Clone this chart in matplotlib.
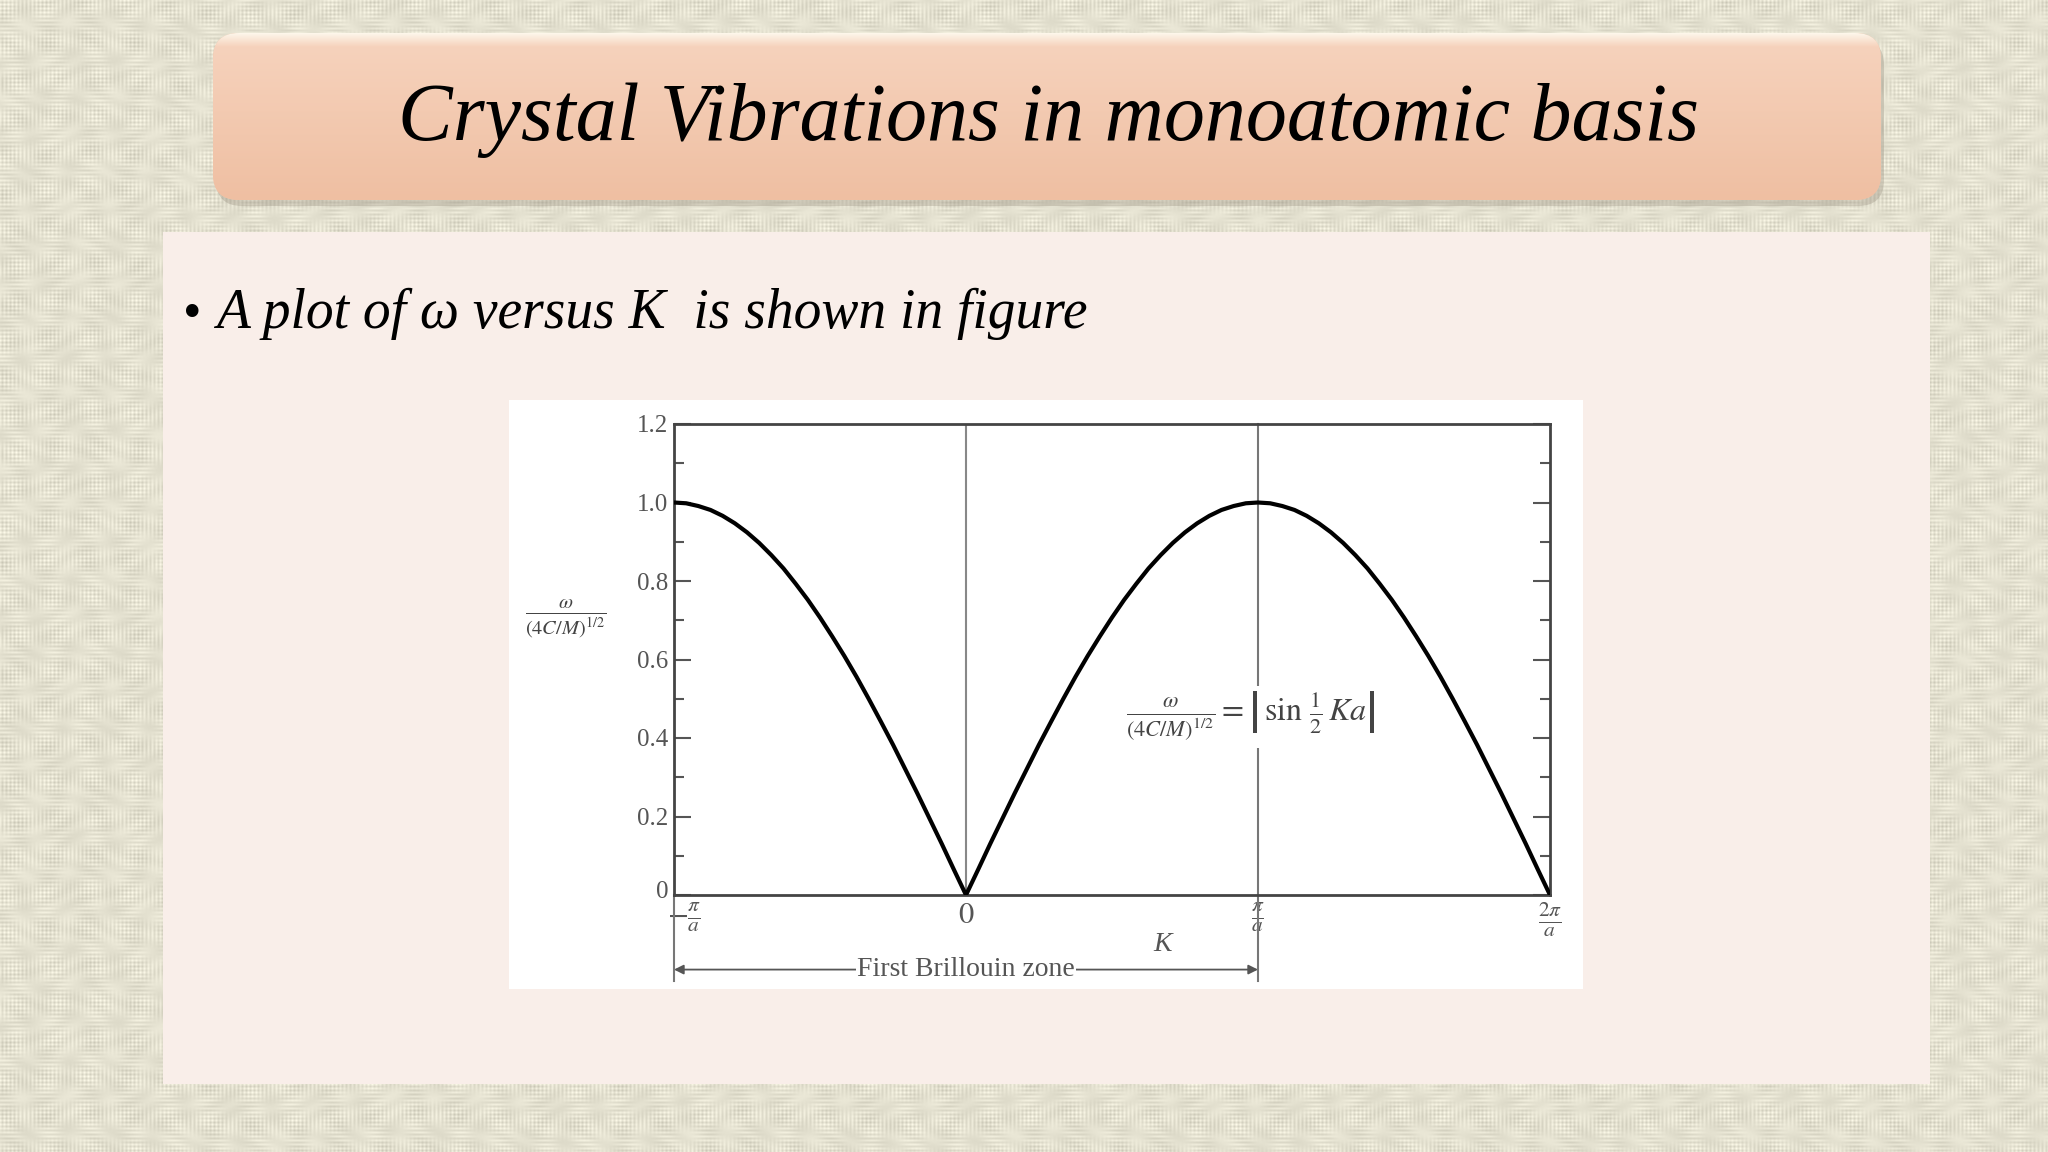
import numpy as np
import matplotlib
matplotlib.use("Agg")
import matplotlib.pyplot as plt
from matplotlib.patches import FancyBboxPatch, Rectangle
from matplotlib.transforms import ScaledTranslation

plt.rcParams['font.family'] = ['Liberation Serif', 'DejaVu Serif']
plt.rcParams['mathtext.fontset'] = 'stix'

# K in units of pi/a (1/24 steps), omega/(4C/M)^1/2
k_steps = list(range(-24, 49))
omega_norm = [1.000, 0.998, 0.991, 0.981, 0.966, 0.947, 0.924, 0.897, 0.866, 0.832, 0.793,
              0.752, 0.707, 0.659, 0.609, 0.556, 0.500, 0.442, 0.383, 0.321, 0.259, 0.195,
              0.131, 0.065, 0.000,
              0.065, 0.131, 0.195, 0.259, 0.321, 0.383, 0.442, 0.500, 0.556, 0.609, 0.659,
              0.707, 0.752, 0.793, 0.832, 0.866, 0.897, 0.924, 0.947, 0.966, 0.981, 0.991,
              0.998, 1.000,
              0.998, 0.991, 0.981, 0.966, 0.947, 0.924, 0.897, 0.866, 0.832, 0.793, 0.752,
              0.707, 0.659, 0.609, 0.556, 0.500, 0.442, 0.383, 0.321, 0.259, 0.195, 0.131,
              0.065, 0.000]
x_ticks = [-1, 0, 1, 2]
x_tick_labels = [r'$-\frac{\pi}{a}$', r'$0$', r'$\frac{\pi}{a}$', r'$\frac{2\pi}{a}$']
y_ticks = [0, 0.2, 0.4, 0.6, 0.8, 1.0, 1.2]
y_tick_labels = ['0', '0.2', '0.4', '0.6', '0.8', '1.0', '1.2']

title = 'Crystal Vibrations in monoatomic basis'
bullet = 'A plot of ω versus K  is shown in figure'

W, H = 2048, 1152
fig = plt.figure(figsize=(W / 100, H / 100), dpi=100)

# ---- slide background (pixel coords) ----
bg = fig.add_axes([0, 0, 1, 1])
bg.set_xlim(0, W)
bg.set_ylim(H, 0)
bg.axis('off')

yy, xx = np.mgrid[0:H, 0:W]
weave = (0.5 * np.cos(2 * np.pi * xx / 4.0) * (0.5 + 0.5 * np.sin(2 * np.pi * yy / 37 + np.sin(xx / 53)))
         + 0.5 * np.cos(2 * np.pi * yy / 4.0) * (0.5 + 0.5 * np.sin(2 * np.pi * xx / 41 + np.cos(yy / 29)))
         + 0.3 * np.sin(xx / 7.3 + 2 * np.sin(yy / 11.0)) * np.sin(yy / 5.1 + np.cos(xx / 13.0)))
base = np.array([228, 225, 208]) / 255.0
tex = np.clip(base[None, None, :] + 0.08 * weave[..., None], 0, 1)
bg.imshow(tex, extent=(0, W, H, 0), aspect='auto', interpolation='nearest', zorder=0)

# content panel
bg.add_patch(Rectangle((163, 232), 1767, 852, facecolor='#f9eee9', edgecolor='none', zorder=1))

# title banner with shadow and gradient
shadow = FancyBboxPatch((216, 39), 1668, 167, boxstyle='round,pad=0,rounding_size=26',
                        facecolor='#8c8272', edgecolor='none', alpha=0.3, zorder=2)
bg.add_patch(shadow)
banner = FancyBboxPatch((213, 33), 1668, 167, boxstyle='round,pad=0,rounding_size=26',
                        facecolor='#f3c6aa', edgecolor='none', zorder=3)
bg.add_patch(banner)
t = np.linspace(0, 1, 167)
top_c = np.array([253, 246, 234]) / 255.0
mid_c = np.array([246, 210, 188]) / 255.0
bot_c = np.array([239, 191, 162]) / 255.0
grad = np.where(t[:, None] < 0.08,
                top_c + (mid_c - top_c) * (t[:, None] / 0.08),
                mid_c + (bot_c - mid_c) * ((t[:, None] - 0.08) / 0.92))
grad = grad[:, None, :]
im = bg.imshow(grad, extent=(213, 1881, 200, 33), aspect='auto', zorder=4)
im.set_clip_path(banner)

bg.text(1048, 140, title, fontsize=59, style='italic', ha='center', va='baseline',
        color='black', zorder=5)
bg.text(183, 328, '•', fontsize=38, ha='left', va='baseline', color='black', zorder=5)
bg.text(216, 328, bullet, fontsize=40, style='italic', ha='left', va='baseline',
        color='black', zorder=5)

# white picture area
bg.add_patch(Rectangle((509, 400), 1074, 589, facecolor='white', edgecolor='none', zorder=5))

# ---- the dispersion plot ----
left, right, top, bottom = 674, 1550, 424, 895
ax = fig.add_axes([left / W, 1 - bottom / H, (right - left) / W, (bottom - top) / H])
ax.set_facecolor('none')
k_vals = [k / 24 for k in k_steps]
ax.plot(k_vals, omega_norm, color='black', lw=3, zorder=4, solid_joinstyle='round')
ax.set_xlim(-1, 2)
ax.set_ylim(0, 1.2)

gray = '#555555'
for s in ax.spines.values():
    s.set_color('#444444')
    s.set_linewidth(2)

ax.set_yticks(y_ticks)
ax.set_yticklabels(y_tick_labels)
ax.set_yticks([0.1, 0.3, 0.5, 0.7, 0.9, 1.1], minor=True)
ax.tick_params(axis='y', which='both', direction='in', left=True, right=True,
               color=gray, width=1.5, labelsize=18, labelcolor=gray, pad=4)
ax.tick_params(axis='y', which='major', length=12)
ax.tick_params(axis='y', which='minor', length=7)
ax.set_xticks(x_ticks)
ax.set_xticklabels(x_tick_labels)
ax.tick_params(axis='x', length=0, labelsize=22, labelcolor=gray, pad=4)
# nudge the corner labels apart, as in the original figure
first = ax.get_xticklabels()[0]
first.set_transform(first.get_transform() + ScaledTranslation(7 / 72, 0, fig.dpi_scale_trans))
zero = ax.get_yticklabels()[0]
zero.set_transform(zero.get_transform() + ScaledTranslation(0, 4 / 72, fig.dpi_scale_trans))

# zone boundary lines
ax.plot([0, 0], [0, 1.2], color='#888888', lw=1.5, zorder=2)
ax.plot([1, 1], [-0.22, 1.2], color='#777777', lw=1.5, zorder=2, clip_on=False)
ax.plot([-1, -1], [0, -0.22], color='#777777', lw=1.5, zorder=2, clip_on=False)

ax.annotate('', xy=(1, -0.19), xytext=(-1, -0.19), xycoords='data',
            arrowprops=dict(arrowstyle='<|-|>', color='#555555', lw=1.3,
                            mutation_scale=14, shrinkA=0, shrinkB=0),
            annotation_clip=False)
ax.text(0, -0.19, 'First Brillouin zone', fontsize=20, color=gray, ha='center', va='center',
        bbox=dict(facecolor='white', edgecolor='none', pad=1), clip_on=False)
ax.text(0.674, -0.125, 'K', fontsize=20, style='italic', color=gray, ha='center', va='center',
        clip_on=False)

ax.text(0.976, 0.454, r'$\frac{\omega}{(4C/M)^{1/2}} = \left|\,\sin\,\frac{1}{2}\,Ka\right|$',
        fontsize=23, color='#444444', ha='center', va='center', zorder=5,
        bbox=dict(facecolor='white', edgecolor='none', pad=3))
ax.text(-1.37, 0.705, r'$\frac{\omega}{(4C/M)^{1/2}}$', fontsize=21, color='#444444',
        ha='center', va='center', clip_on=False)

fig.savefig('out.png', dpi=100)
